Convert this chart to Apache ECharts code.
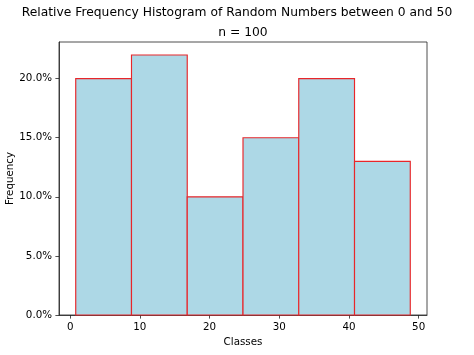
<!DOCTYPE html>
<html>
<head>
<meta charset="utf-8">
<script src="https://cdn.jsdelivr.net/npm/echarts@6/dist/echarts.min.js"></script>
<style>html,body{margin:0;padding:0;background:#fff}#c{width:474px;height:355px}</style>
</head>
<body>
<div id="c"></div>
<script>
var binEdges = [0.8, 8.8, 16.8, 24.8, 32.8, 40.8, 48.8];
var frequencies = [20, 22, 10, 15, 20, 13];
var xTicks = [0, 10, 20, 30, 40, 50];
var yTicks = [0, 5, 10, 15, 20];
var titleText = 'Relative Frequency Histogram of Random Numbers between 0 and 50';
var subtitleText = 'n = 100';

var data = frequencies.map(function (f, i) { return [binEdges[i], binEdges[i + 1], f]; });
var font = 'DejaVu Sans';
var chart = echarts.init(document.getElementById('c'), null, { renderer: 'canvas' });
chart.setOption({
  animation: false,
  backgroundColor: '#fff',
  title: [
    { text: titleText, left: 237, textAlign: 'center', top: 6.5, padding: 0,
      textStyle: { fontFamily: font, fontSize: 12.3, fontWeight: 'normal', color: '#000' } },
    { text: subtitleText, left: 243, textAlign: 'center', top: 27, padding: 0,
      textStyle: { fontFamily: font, fontSize: 12.3, fontWeight: 'normal', color: '#000' } }
  ],
  grid: { left: 59, right: 47, top: 42, bottom: 40, outerBoundsMode: 'none', containLabel: false,
    show: true, borderColor: '#222', borderWidth: 0.8, backgroundColor: 'transparent' },
  xAxis: {
    type: 'value', min: -1.6, max: 51.2,
    name: 'Classes', nameLocation: 'middle', nameGap: 22.5, nameMoveOverlap: false,
    nameTextStyle: { fontFamily: font, fontSize: 10.3, color: '#000' },
    axisLine: { show: true, onZero: false, lineStyle: { color: '#222', width: 0.8 } },
    axisTick: { show: true, length: 3.6, customValues: xTicks, lineStyle: { color: '#222', width: 0.8 } },
    axisLabel: { customValues: xTicks, margin: 7.5, fontFamily: font, fontSize: 10.3, color: '#000' },
    splitLine: { show: false }
  },
  yAxis: {
    type: 'value', min: 0, max: 23.1,
    name: 'Frequency', nameLocation: 'middle', nameGap: 44, nameMoveOverlap: false,
    nameTextStyle: { fontFamily: font, fontSize: 10.3, color: '#000' },
    axisLine: { show: true, onZero: false, lineStyle: { color: '#222', width: 0.8 } },
    axisTick: { show: true, length: 3.6, customValues: yTicks, lineStyle: { color: '#222', width: 0.8 } },
    axisLabel: { customValues: yTicks, margin: 7, fontFamily: font, fontSize: 10.3, color: '#000',
      formatter: function (v) { return v.toFixed(1) + '%'; } },
    splitLine: { show: false }
  },
  series: [{
    type: 'custom',
    data: data,
    encode: { x: [0, 1], y: 2 },
    z: 5,
    renderItem: function (params, api) {
      var p0 = api.coord([api.value(0), api.value(2)]);
      var p1 = api.coord([api.value(1), 0]);
      return {
        type: 'rect',
        shape: { x: p0[0], y: p0[1], width: p1[0] - p0[0], height: p1[1] - p0[1] },
        style: { fill: '#add8e6', stroke: '#e8262a', lineWidth: 1.15 }
      };
    }
  }]
});
</script>
</body>
</html>
